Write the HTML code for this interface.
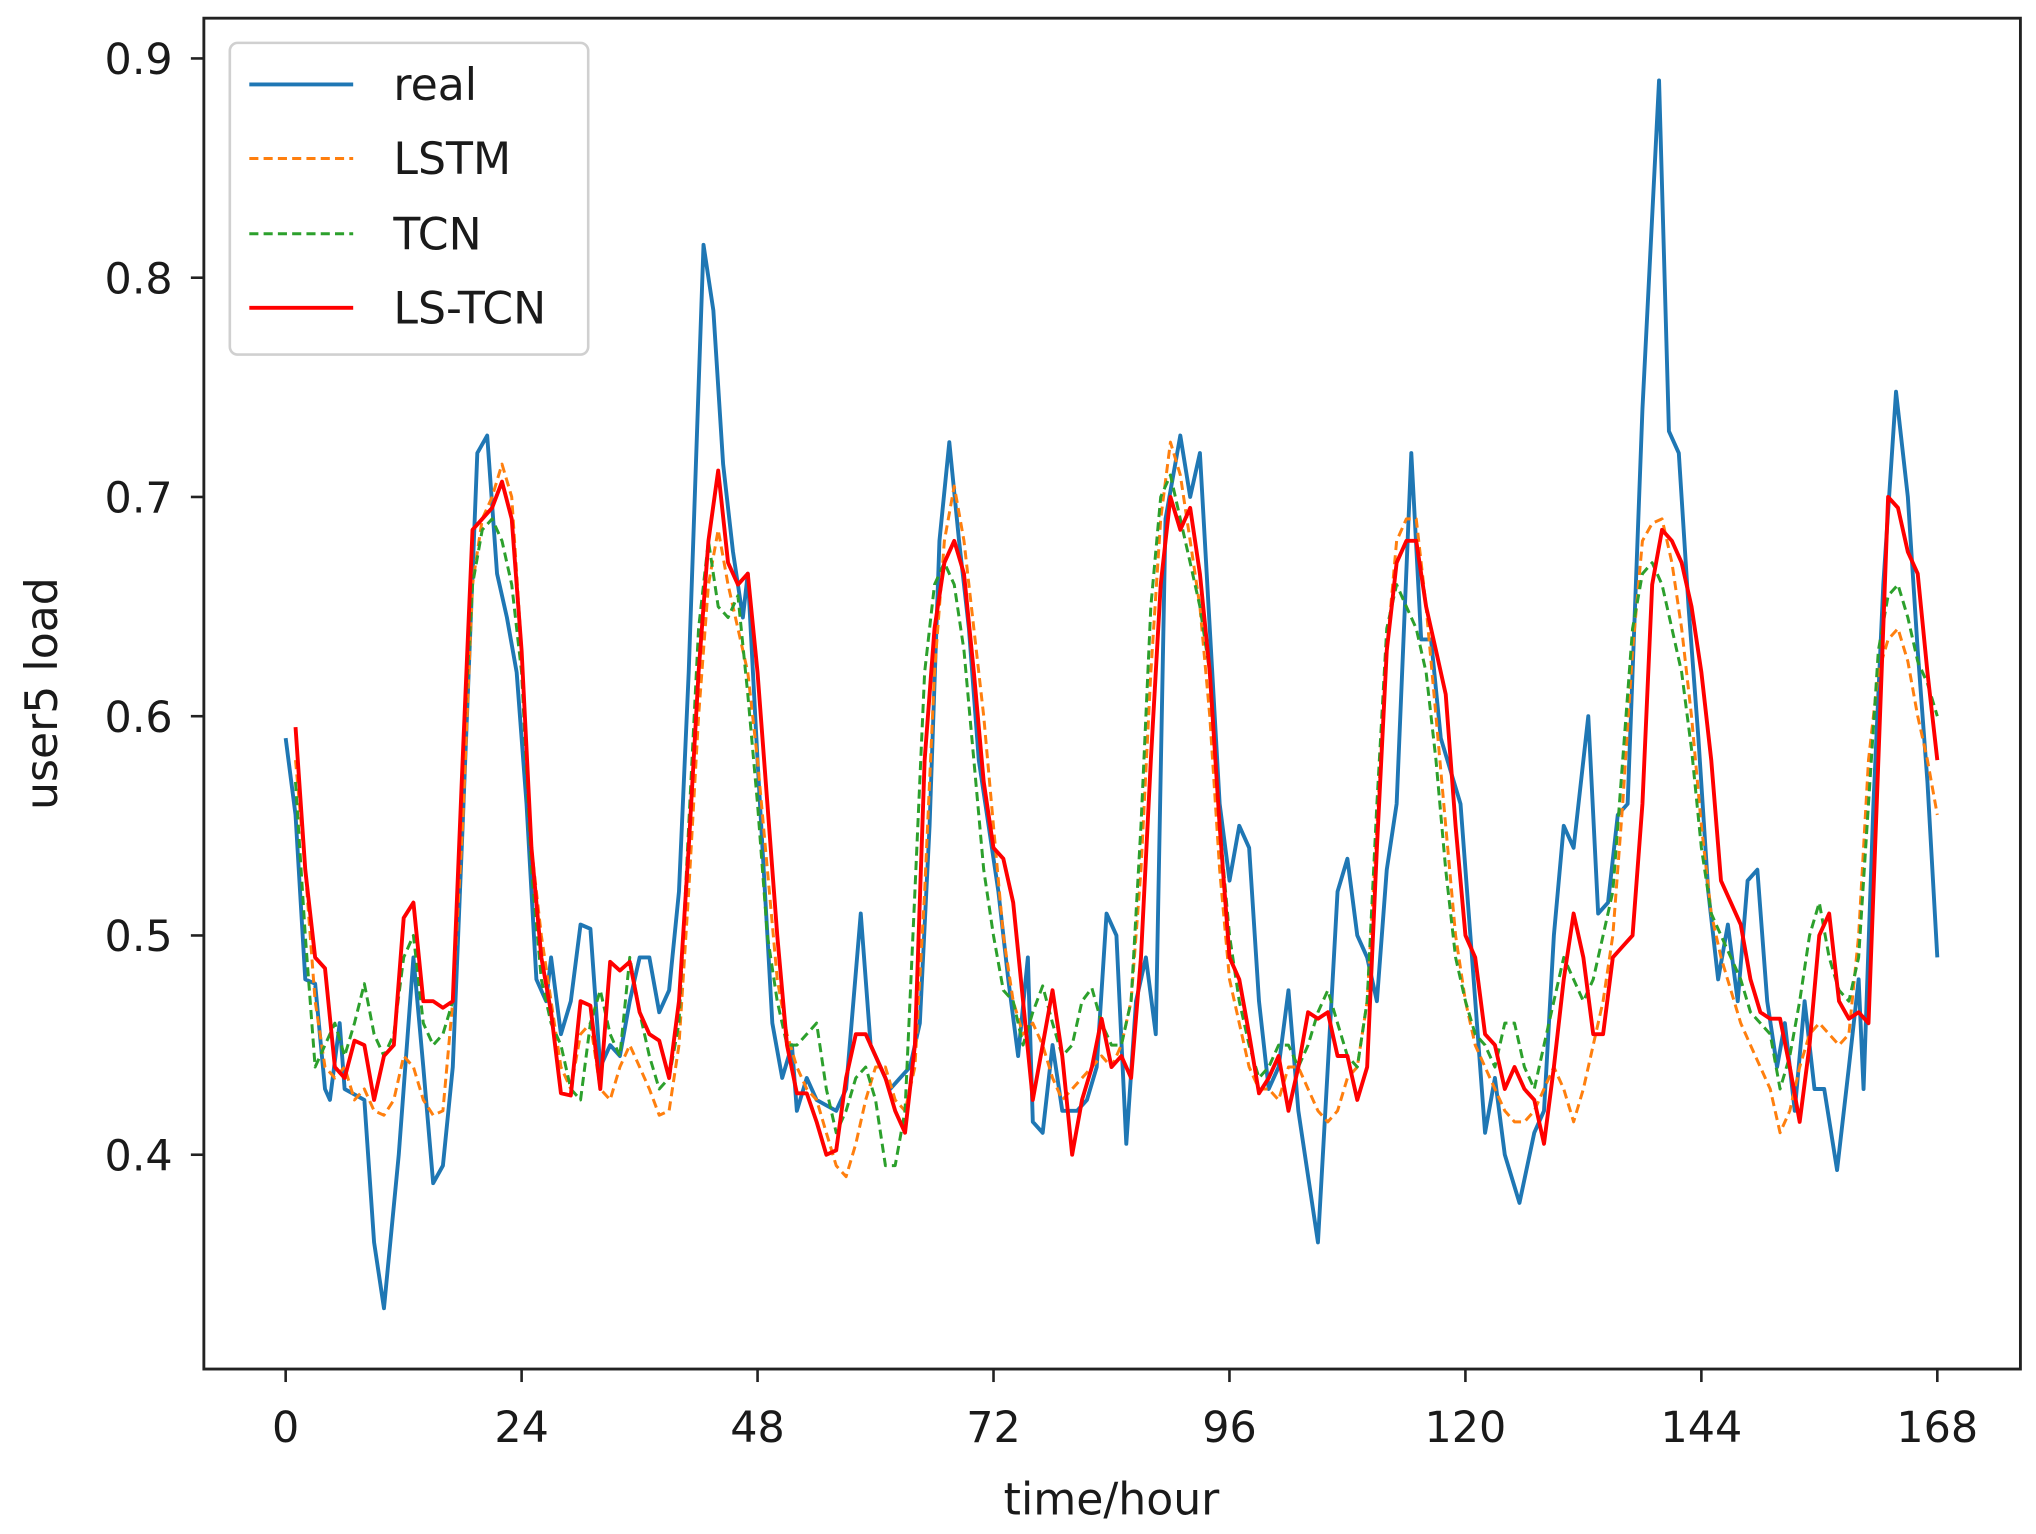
<!DOCTYPE html>
<html><head><meta charset="utf-8"><style>
html,body{margin:0;padding:0;background:#fff}
svg{display:block}
text{font-family:"DejaVu Sans","Liberation Sans",sans-serif;fill:#1a1a1a}
</style></head><body>
<svg id="s" width="2036" height="1534" viewBox="0 0 1568 1181" preserveAspectRatio="none" xmlns="http://www.w3.org/2000/svg">
<rect x="0" y="0" width="1568" height="1181" fill="#fff"/>
<g id="series"></g>
<rect x="157" y="14" width="1399" height="1040" fill="none" stroke="#222" stroke-width="2.2"/>
<g id="ticks" stroke="#222" stroke-width="2"></g>
<g id="labels" font-size="33"></g>
<text x="856" y="1166" font-size="34" text-anchor="middle">time/hour</text>
<text transform="translate(44,534) rotate(-90)" font-size="34" text-anchor="middle">user5 load</text>
<g>
<rect x="177" y="33" width="276" height="240" rx="6" fill="#fff" fill-opacity="0.85" stroke="#d0d0d0" stroke-width="2"/>
<line x1="192" y1="65" x2="272" y2="65" stroke="#1f77b4" stroke-width="3"/>
<line x1="192" y1="122" x2="272" y2="122" stroke="#ff7f0e" stroke-width="2.3" stroke-dasharray="7,4"/>
<line x1="192" y1="180" x2="272" y2="180" stroke="#2ca02c" stroke-width="2.3" stroke-dasharray="7,4"/>
<line x1="192" y1="237" x2="272" y2="237" stroke="#ff0000" stroke-width="3"/>
<text x="303" y="77" font-size="34">real</text>
<text x="303" y="134" font-size="34">LSTM</text>
<text x="303" y="192" font-size="34">TCN</text>
<text x="303" y="249" font-size="34">LS-TCN</text>
</g>
</svg>
<script>
var NS="http://www.w3.org/2000/svg";
function X(h){return 220+h*(1272/168);}
function Y(v){return 889-(v-0.4)*1688;}
var real=[0,.59,1,.555,2,.48,3,.478,4,.43,4.5,.425,5.5,.46,6,.43,8,.425,9,.36,10,.33,11.5,.40,13,.49,14,.44,15,.387,16,.395,17,.44,18,.55,19.5,.72,20.5,.728,21.5,.665,22.5,.645,23.5,.62,24.5,.56,25.5,.48,26.5,.47,27,.49,28,.455,29,.47,30,.505,31,.503,32,.44,33,.45,34,.445,35,.47,36,.49,37,.49,38,.465,39,.475,40,.52,41,.62,42.5,.815,43.5,.785,44.5,.715,45.5,.675,46.5,.645,47,.665,48,.58,49.5,.46,50.5,.435,51.5,.45,52,.42,53,.435,54,.425,56,.42,57,.43,58.5,.51,59.5,.45,60.5,.44,61.5,.43,62.5,.435,63.5,.44,64.5,.46,65.5,.55,66.5,.68,67.5,.725,68.5,.68,69.5,.64,70.5,.58,71.5,.55,72.5,.52,73.5,.48,74.5,.445,75.5,.49,76,.415,77,.41,78,.45,79,.42,80.5,.42,81.5,.425,82.5,.44,83.5,.51,84.5,.50,85.5,.405,86.5,.47,87.5,.49,88.5,.455,89.5,.69,91,.728,92,.70,93,.72,94,.64,95,.56,96,.525,97,.55,98,.54,99,.47,100,.43,101,.44,102,.475,103,.42,105,.36,106,.44,107,.52,108,.535,109,.50,110,.49,111,.47,112,.53,113,.56,114.5,.72,115.5,.635,116.5,.635,117.5,.59,118.5,.575,119.5,.56,120.5,.50,122,.41,123,.435,124,.40,125.5,.378,127,.41,128,.42,129,.50,130,.55,131,.54,132.5,.60,133.5,.51,134.5,.515,135.5,.555,136.5,.56,138,.74,139.7,.89,140.7,.73,141.7,.72,142.7,.65,143.7,.59,144.7,.52,145.7,.48,146.7,.505,147.7,.47,148.7,.525,149.7,.53,150.7,.47,151.7,.44,152.5,.46,153.5,.42,154.5,.47,155.5,.43,156.5,.43,157.8,.393,159,.44,160,.48,160.5,.43,161.5,.56,162.5,.66,163.8,.748,165,.70,166,.63,167,.57,168,.49];
var red=[1,.595,2,.53,3,.49,4,.485,5,.44,6,.435,7,.452,8,.45,9,.425,10,.445,11,.45,12,.508,13,.515,14,.47,15,.47,16,.467,17,.47,18,.58,19,.685,20,.69,21,.695,22,.707,23,.69,24,.63,25,.54,26,.49,27,.465,28,.428,29,.427,30,.47,31,.468,32,.43,33,.488,34,.484,35,.488,36,.465,37,.455,38,.452,39,.435,40,.47,41,.54,42,.62,43,.68,44,.712,45,.67,46,.66,47,.665,48,.62,49,.56,50,.50,51,.45,52,.428,53,.428,54,.415,55,.40,56,.402,57,.435,58,.455,59,.455,60,.445,61,.435,62,.42,63,.41,64,.45,65,.58,66,.64,67,.67,68,.68,69,.665,70,.62,71,.57,72,.54,73,.535,74,.515,75,.47,76,.425,77,.45,78,.475,79,.445,80,.40,81,.425,82,.44,83,.462,84,.44,85,.445,86,.435,87,.49,88,.58,89,.66,90,.70,91,.685,92,.695,93,.665,94,.62,95,.55,96,.49,97,.48,98,.455,99,.428,100,.435,101,.445,102,.42,103,.44,104,.465,105,.462,106,.465,107,.445,108,.445,109,.425,110,.44,111,.54,112,.63,113,.67,114,.68,115,.68,116,.65,117,.63,118,.61,119,.55,120,.50,121,.49,122,.455,123,.45,124,.43,125,.44,126,.43,127,.425,128,.405,129,.44,130,.48,131,.51,132,.49,133,.455,134,.455,135,.49,136,.495,137,.50,138,.56,139,.66,140,.685,141,.68,142,.67,143,.65,144,.62,145,.58,146,.525,147,.515,148,.505,149,.48,150,.465,151,.462,152,.462,153,.44,154,.415,155,.45,156,.50,157,.51,158,.47,159,.462,160,.465,161,.46,162,.58,163,.70,164,.695,165,.675,166,.665,167,.62,168,.58];
var lstm=[1,.58,2,.53,3,.47,4,.44,5,.435,6,.44,7,.425,8,.43,9,.42,10,.418,11,.425,12,.445,13,.44,14,.425,15,.418,16,.42,17,.47,18,.55,19,.66,20,.69,21,.70,22,.715,23,.70,24,.63,25,.54,26,.50,27,.47,28,.44,29,.43,30,.455,31,.46,32,.43,33,.425,34,.44,35,.45,36,.44,37,.43,38,.418,39,.42,40,.45,41,.52,42,.60,43,.66,44,.685,45,.66,46,.64,47,.62,48,.58,49,.53,50,.48,51,.455,52,.44,53,.43,54,.425,55,.41,56,.395,57,.39,58,.405,59,.425,60,.44,61,.44,62,.425,63,.42,64,.44,65,.52,66,.62,67,.68,68,.705,69,.68,70,.64,71,.60,72,.55,73,.50,74,.47,75,.455,76,.46,77,.45,78,.435,79,.425,80,.43,81,.435,82,.44,83,.445,84,.44,85,.45,86,.47,87,.53,88,.62,89,.69,90,.725,91,.71,92,.68,93,.65,94,.60,95,.53,96,.48,97,.46,98,.44,99,.43,100,.43,101,.425,102,.44,103,.44,104,.43,105,.42,106,.415,107,.42,108,.435,109,.44,110,.47,111,.55,112,.63,113,.68,114,.69,115,.69,116,.65,117,.60,118,.55,119,.50,120,.47,121,.45,122,.44,123,.43,124,.42,125,.415,126,.415,127,.42,128,.43,129,.44,130,.43,131,.415,132,.43,133,.45,134,.47,135,.50,136,.56,137,.63,138,.68,139,.688,140,.69,141,.67,142,.64,143,.60,144,.55,145,.51,146,.49,147,.475,148,.46,149,.45,150,.44,151,.43,152,.41,153,.42,154,.44,155,.455,156,.46,157,.455,158,.45,159,.455,160,.50,161,.58,162,.62,163,.635,164,.64,165,.625,166,.60,167,.58,168,.555];
var tcn=[1,.57,2,.50,3,.44,4,.45,5,.46,6,.445,7,.46,8,.478,9,.455,10,.445,11,.455,12,.49,13,.50,14,.46,15,.45,16,.455,17,.47,18,.58,19,.66,20,.685,21,.69,22,.68,23,.66,24,.62,25,.53,26,.48,27,.46,28,.45,29,.43,30,.425,31,.46,32,.475,33,.455,34,.445,35,.49,36,.465,37,.445,38,.43,39,.435,40,.46,41,.55,42,.64,43,.68,44,.65,45,.645,46,.655,47,.61,48,.56,49,.50,50,.47,51,.45,52,.45,53,.455,54,.46,55,.43,56,.41,57,.42,58,.435,59,.44,60,.425,61,.395,62,.395,63,.42,64,.52,65,.62,66,.66,67,.67,68,.66,69,.63,70,.58,71,.53,72,.50,73,.475,74,.47,75,.45,76,.465,77,.477,78,.46,79,.445,80,.45,81,.47,82,.476,83,.46,84,.45,85,.45,86,.47,87,.55,88,.65,89,.70,90,.71,91,.69,92,.67,93,.65,94,.62,95,.55,96,.50,97,.47,98,.45,99,.435,100,.44,101,.45,102,.45,103,.44,104,.45,105,.465,106,.475,107,.46,108,.445,109,.44,110,.47,111,.56,112,.64,113,.66,114,.65,115,.64,116,.62,117,.58,118,.53,119,.49,120,.47,121,.455,122,.45,123,.44,124,.46,125,.46,126,.44,127,.43,128,.45,129,.47,130,.49,131,.48,132,.47,133,.48,134,.50,135,.52,136,.58,137,.64,138,.665,139,.67,140,.66,141,.64,142,.62,143,.585,144,.54,145,.51,146,.50,147,.49,148,.48,149,.465,150,.46,151,.455,152,.43,153,.445,154,.47,155,.50,156,.515,157,.49,158,.475,159,.47,160,.49,161,.56,162,.63,163,.655,164,.66,165,.645,166,.625,167,.615,168,.60];
function pl(d,col,w,dash){var p=document.createElementNS(NS,"polyline");var a=[];for(var i=0;i<d.length;i+=2)a.push(X(d[i]).toFixed(1)+","+Y(d[i+1]).toFixed(1));p.setAttribute("points",a.join(" "));p.setAttribute("fill","none");p.setAttribute("stroke",col);p.setAttribute("stroke-width",w);p.setAttribute("stroke-linejoin","round");if(dash)p.setAttribute("stroke-dasharray",dash);document.getElementById("series").appendChild(p);}
pl(real,"#1f77b4",3);
pl(lstm,"#ff7f0e",2.3,"7,4");
pl(tcn,"#2ca02c",2.3,"7,4");
pl(red,"#ff0000",3);
var t=document.getElementById("ticks"),l=document.getElementById("labels");
function ln(x1,y1,x2,y2){var e=document.createElementNS(NS,"line");e.setAttribute("x1",x1);e.setAttribute("y1",y1);e.setAttribute("x2",x2);e.setAttribute("y2",y2);t.appendChild(e);}
function tx(x,y,s,a){var e=document.createElementNS(NS,"text");e.setAttribute("x",x);e.setAttribute("y",y);e.setAttribute("text-anchor",a);e.textContent=s;l.appendChild(e);}
for(var h=0;h<=168;h+=24){ln(X(h),1054,X(h),1064);tx(X(h),1110,String(h),"middle");}
var yv=[0.4,0.5,0.6,0.7,0.8,0.9];
yv.forEach(function(v){ln(147,Y(v),157,Y(v));tx(133,Y(v)+12,v.toFixed(1),"end");});
</script>
</body></html>
